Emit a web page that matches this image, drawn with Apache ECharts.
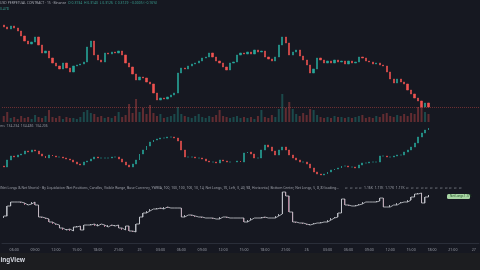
<!DOCTYPE html>
<html>
<head>
<meta charset="utf-8">
<script src="https://cdn.jsdelivr.net/npm/echarts@6/dist/echarts.min.js"></script>
<style>
  html, body { margin: 0; background: #1c1d21; }
  #chart { width: 480px; height: 270px; }
</style>
</head>
<body>
<div id="chart"></div>
<script>
// 30 min slots, first slot = 24th 04:30
const tickLabels = ["06:00", "09:00", "12:00", "15:00", "18:00", "21:00", "25",
  "03:00", "06:00", "09:00", "12:00", "15:00", "18:00", "21:00", "26",
  "03:00", "06:00", "09:00", "12:00", "15:00", "18:00", "21:00", "27"];
const firstTickSlot = 3;
const slotsPerTick = 6;
const slotCount = 137;

const priceOpen = 95;
const priceClose = [
  93, 91, 94, 92, 89, 84, 79, 76, 78, 83,
  75, 67, 69, 62, 57, 54, 51, 57, 52, 48,
  54, 55, 56, 58, 73, 79, 65, 60, 58, 67,
  66, 68, 67, 69, 65, 57, 53, 46, 40, 43,
  42, 38, 36, 27, 20, 22, 21, 23, 25, 27,
  47, 52, 51, 54, 56, 57, 59, 62, 63, 67,
  63, 59, 57, 53, 50, 57, 58, 65, 67, 66,
  68, 66, 70, 68, 69, 63, 61, 59, 63, 75,
  83, 77, 65, 68, 70, 64, 60, 55, 47, 51,
  62, 60, 57, 59, 57, 60, 58, 59, 56, 59,
  57, 58, 63, 62, 59, 58, 56, 57, 55, 54,
  48, 41, 37, 41, 38, 36, 30, 26, 22, 19,
  13, 17, 13
];
const volume = [
  6, 10, 4, 5, 3, 6, 4, 5, 3, 7,
  5, 4, 6, 12, 5, 4, 6, 3, 5, 4,
  4, 3, 5, 10, 12, 9, 8, 5, 6, 4,
  5, 4, 6, 10, 5, 7, 18, 9, 23, 10,
  14, 8, 17, 9, 6, 8, 4, 5, 6, 8,
  15, 8, 6, 5, 4, 6, 8, 5, 4, 6,
  5, 7, 12, 6, 5, 4, 5, 6, 4, 5,
  4, 5, 3, 6, 12, 5, 4, 7, 5, 13,
  28, 14, 20, 13, 8, 6, 9, 7, 13, 12,
  7, 5, 4, 5, 4, 6, 5, 5, 4, 5,
  4, 5, 6, 7, 4, 5, 4, 6, 5, 8,
  9, 6, 5, 7, 6, 8, 6, 9, 8, 15,
  15, 10, 8
];

const oiOpen = 14;
const oiClose = [
  13, 20, 24, 23, 25, 26, 29, 28, 30, 29,
  26, 24, 22, 25, 24, 23, 23, 22, 21, 20,
  18, 16, 15, 18, 19, 21, 23, 22, 22, 22,
  22, 23, 23, 21, 18, 15, 13, 16, 20, 26,
  30, 34, 38, 40, 41, 42, 42, 43, 43, 42,
  39, 30, 23, 23, 23, 22, 22, 21, 19, 18,
  18, 17, 20, 19, 18, 18, 18, 19, 18, 27,
  28, 26, 22, 22, 30, 35, 33, 29, 25, 30,
  33, 30, 25, 22, 20, 18, 18, 16, 12, 8,
  6, 5, 6, 8, 10, 11, 12, 14, 14, 13,
  13, 12, 15, 17, 17, 18, 18, 18, 24, 24,
  23, 23, 24, 25, 25, 28, 30, 33, 37, 43,
  47, 50, 52
];

const liqOpen = 25;
const liqClose = [
  27, 37, 41, 41, 41, 40, 38, 39, 41, 38,
  26, 25, 24, 21, 19, 18, 15, 13, 14, 12,
  16, 17, 13, 18, 18, 19, 17, 19, 18, 16,
  18, 17, 18, 15, 13, 17, 12, 11, 19, 26,
  30, 32, 34, 34, 35, 34, 36, 35, 35, 35,
  35, 26, 28, 28, 27, 26, 26, 25, 25, 25,
  24, 24, 26, 26, 25, 25, 25, 25, 25, 21,
  23, 25, 25, 25, 26, 25, 25, 25, 27, 29,
  51, 47, 31, 21, 20, 20, 19, 18, 19, 20,
  20, 21, 21, 23, 25, 26, 30, 44, 38, 37,
  37, 38, 39, 41, 41, 41, 41, 42, 45, 36,
  36, 38, 38, 40, 41, 41, 43, 46, 49, 50,
  40, 46, 48
];

const UP = "#26a69a";
const DOWN = "#ef5350";
const FONT = "Noto Sans";

function toCandles(open0, closes) {
  return closes.map((c, i) => {
    const o = i === 0 ? open0 : closes[i - 1];
    return [o, c, Math.min(o, c), Math.max(o, c)];
  });
}

const categories = Array.from({length: slotCount}, (_, i) => "s" + i);
const priceCandles = toCandles(priceOpen, priceClose);
const volumeBars = volume.map((v, i) => ({
  value: v,
  itemStyle: {color: priceCandles[i][1] >= priceCandles[i][0] ? "rgba(38,166,154,0.35)" : "rgba(239,83,80,0.35)"}
}));

const grids = [
  {left: 2, right: 1, top: 10, height: 110},
  {left: 2, right: 1, top: 94, height: 28},
  {left: 2, right: 1, top: 122, height: 58},
  {left: 2, right: 1, top: 180, height: 63}
];
const yRanges = [[0, 110], [0, 28], [0, 58], [0, 63]];

const chart = echarts.init(document.getElementById("chart"));

const text = (x, y, str, color, size, extra) => ({
  type: "text", x: x, y: y, silent: true,
  style: Object.assign({text: str, fill: color, fontSize: size, fontFamily: FONT}, extra || {})
});

chart.setOption({
  backgroundColor: "#161821",
  animation: false,
  grid: grids,
  xAxis: grids.map((g, i) => ({
    type: "category",
    gridIndex: i,
    data: categories,
    boundaryGap: true,
    show: i === 3,
    axisTick: {show: false},
    axisLine: {show: i === 3, lineStyle: {color: "#2a2e39"}},
    splitLine: {show: false},
    axisLabel: {
      show: i === 3,
      interval: (idx) => idx >= firstTickSlot && (idx - firstTickSlot) % slotsPerTick === 0,
      formatter: (v, idx) => tickLabels[(idx - firstTickSlot) / slotsPerTick] || "",
      color: "#9598a1",
      fontSize: 3.6,
      fontFamily: FONT,
      margin: 5,
      hideOverlap: false
    }
  })),
  yAxis: yRanges.map((r, i) => ({
    type: "value", gridIndex: i, min: r[0], max: r[1], show: false
  })),
  graphic: [
    {type: "rect", shape: {x: 0, y: 253, width: 480, height: 17}, style: {fill: "#1c1d20"}, silent: true},
    text(0, 2, "USD PERPETUAL CONTRACT · 15 · Binance", "#a3a6af", 3.4),
    text(68, 2, "O 0.3134  H 0.3140  L 0.3126  C 0.3129  −0.0005 (−0.16%)", "#3a9d90", 3.4),
    text(0, 8, "0.478", "#3a9d90", 3.4),
    text(0, 125, "ms  134.234  134.486  134.206", "#8d909a", 3.4),
    text(0, 187, "(Net Longs & Net Shorts) · By Liquidation (Net Positions, Candles, Visible Range, Base Currency, YWMA, 100, 100, 100, 100, 10, 14, Net Longs, 70, Left, 3, 40, 98, Horizontal, Bottom Center, Net Longs, 5, 8, 8) loading...", "#9ea1aa", 3.4),
    text(345, 187, "∅  ∅  ∅  ∅  1.16K  1.17K  1.17K  1.17K  ∅  ∅  ∅  ∅  ∅  ∅  ∅  ∅  ∅  ∅  ∅  ∅", "#9ea1aa", 3.4),
    {type: "rect", shape: {x: 447, y: 194, width: 23, height: 5, r: 1.5}, style: {fill: "#a8d5a4"}, silent: true},
    text(450, 195, "Net Longs 1.17K", "#1e4d22", 2.8),
    text(25, 257, "TradingView", "#d1d4dc", 6.2, {align: "right", fontWeight: "bold"})
  ],
  series: [
    {
      type: "candlestick",
      xAxisIndex: 0, yAxisIndex: 0,
      data: priceCandles,
      barWidth: 1.8,
      itemStyle: {color: UP, color0: DOWN, borderColor: UP, borderColor0: DOWN, borderWidth: 0.6},
      markLine: {
        silent: true,
        symbol: "none",
        label: {show: false},
        lineStyle: {type: "dotted", color: "rgba(239,83,80,0.4)", width: 1},
        data: [{yAxis: priceClose[priceClose.length - 1]}]
      }
    },
    {
      type: "bar",
      xAxisIndex: 1, yAxisIndex: 1,
      data: volumeBars,
      barWidth: 2
    },
    {
      type: "candlestick",
      xAxisIndex: 2, yAxisIndex: 2,
      data: toCandles(oiOpen, oiClose),
      barWidth: 1.4,
      itemStyle: {color: UP, color0: DOWN, borderColor: UP, borderColor0: DOWN, borderWidth: 0.6}
    },
    {
      type: "line",
      xAxisIndex: 3, yAxisIndex: 3,
      data: liqClose,
      step: "end",
      symbol: "none",
      lineStyle: {color: "#c9cbd2", width: 0.8}
    },
    {
      type: "candlestick",
      xAxisIndex: 3, yAxisIndex: 3,
      data: toCandles(liqOpen, liqClose),
      barWidth: 1,
      itemStyle: {color: "#d1d4dc", color0: "#d68aab", borderColor: "#d1d4dc", borderColor0: "#d68aab", borderWidth: 0.8}
    }
  ]
});
</script>
</body>
</html>
